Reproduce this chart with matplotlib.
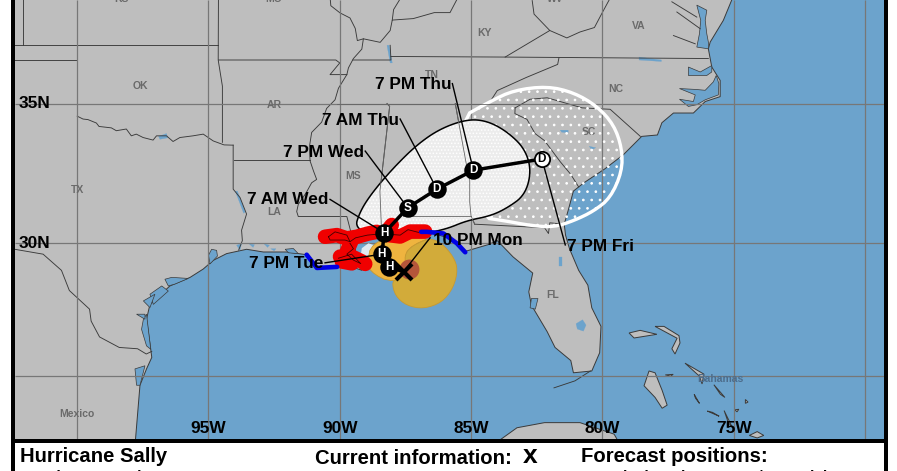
import numpy as np
import matplotlib
matplotlib.use("Agg")
import matplotlib.pyplot as plt
from matplotlib.patches import Polygon, Rectangle

plt.rcParams['font.family'] = ['Liberation Sans', 'DejaVu Sans']
plt.rcParams['hatch.linewidth'] = 0.7

# ---------- map data (lon, lat) ----------
coast_mainland = [(-75.0,38.7),(-75.07,38.52),(-75.39,37.84),(-75.89,37.11),(-75.96,36.88),(-75.83,36.26),(-75.51,35.8),
 (-75.51,35.24),(-76.08,35.07),(-76.53,34.67),(-77.29,34.67),(-77.73,34.33),(-77.9,33.9),(-78.5,33.85),(-79.2,33.2),
 (-79.9,32.7),(-80.7,32.2),(-81.1,31.9),(-81.3,31.2),(-81.45,30.7),(-81.4,30.3),(-81.25,29.8),(-80.9,29.0),
 (-80.55,28.45),(-80.4,27.6),(-80.05,26.9),(-80.1,25.9),(-80.4,25.2),(-81.1,25.13),(-81.2,25.6),(-81.8,26.1),
 (-82.1,26.7),(-82.7,27.7),(-82.8,28.2),(-82.65,28.9),(-83.4,29.5),(-84.0,30.1),(-84.35,29.95),(-85.3,29.68),
 (-85.7,30.15),(-86.5,30.38),(-87.5,30.28),(-88.0,30.23),(-87.95,30.65),(-88.1,30.6),(-88.15,30.35),(-89.2,30.33),
 (-89.6,30.2),(-89.4,29.9),(-89.4,29.3),(-89.15,29.0),(-89.9,29.25),(-90.2,29.1),(-90.9,29.05),(-91.26,29.58),
 (-92.02,29.68),(-92.91,29.68),(-93.55,29.78),(-94.31,29.62),(-94.82,29.37),(-95.2,29.05),(-95.7,28.74),(-96.47,28.42),
 (-97.23,27.73),(-97.36,27.17),(-97.2,26.03),(-97.16,25.72),(-97.36,25.28),(-97.61,24.65),(-97.8,22.3),(-103.0,22.3),(-103.0,38.7)]
cuba = [(-84.2,22.3),(-83.25,23.0),(-82.2,23.2),(-80.85,23.2),(-79.55,22.75),(-79.3,22.3)]
grand_bahama = [(-78.98,26.65),(-78.79,26.46),(-77.92,26.6),(-78.56,26.75)]
abaco = [(-77.99,26.9),(-77.65,26.9),(-77.08,26.55),(-77.04,26.27),(-77.23,25.85),(-77.35,26.05),(-77.15,26.45)]
andros = [(-78.22,25.2),(-77.99,25.13),(-77.72,24.45),(-77.53,23.88),(-77.72,23.76),(-77.99,24.18),(-78.41,24.63)]
small_islands = [
 [(-76.85,25.5),(-76.13,25.08),(-76.2,24.7),(-76.3,25.0)],
 [(-75.75,24.67),(-75.33,24.18),(-75.5,24.3)],
 [(-75.36,23.67),(-75.05,23.02),(-75.2,23.2)],
 [(-76.5,24.3),(-76.3,23.95),(-76.45,24.15)],
 [(-76.0,23.65),(-75.55,23.45),(-75.8,23.6)],
 [(-74.55,24.1),(-74.45,24.0),(-74.55,23.95)],
 [(-74.95,23.7),(-74.8,23.72),(-74.87,23.62)],
 [(-74.4,22.7),(-74.1,22.85),(-73.85,22.7),(-74.1,22.6)],
 [(-77.6,25.05),(-77.3,25.07),(-77.4,25.0)],
]
water_okeechobee = [(-81.0,27.0),(-80.75,27.15),(-80.62,26.95),(-80.72,26.72),(-80.95,26.8)]
water_chesapeake = [(-76.4,38.35),(-76.02,38.18),(-76.08,37.84),(-76.02,37.39),(-75.96,37.11),(-75.96,36.88),(-76.4,36.94),(-76.3,37.39),(-76.25,37.84)]
water_albemarle = [(-76.72,36.26),(-76.72,35.97),(-76.02,35.97),(-75.83,36.09),(-75.83,36.31),(-76.27,36.09)]
water_pamlico = [(-76.46,35.49),(-76.08,35.46),(-75.77,35.75),(-75.66,35.97),(-75.56,35.69),(-75.58,35.3),(-76.08,35.13),(-76.4,34.96),(-76.72,34.9),(-77.06,35.15),(-76.53,35.07),(-76.46,35.3),(-77.06,35.52)]
water_tampa = [(-82.7,27.95),(-82.45,27.95),(-82.55,27.55),(-82.75,27.6)]
water_galveston = [(-95.0,29.56),(-94.88,29.78),(-94.69,29.74),(-94.66,29.53),(-94.94,29.24)]
water_matagorda = [(-96.66,28.67),(-96.4,28.74),(-95.77,28.7),(-96.28,28.49),(-96.53,28.42)]
water_sanantonio = [(-97.23,28.11),(-96.78,28.42),(-96.53,28.23),(-97.1,27.73)]
water_corpus = [(-97.48,27.86),(-97.04,28.11),(-97.23,27.61)]
water_laguna = [(-97.48,27.17),(-97.36,27.36),(-97.2,26.03),(-97.36,26.16),(-97.55,26.79)]
water_baffin = [(-97.74,27.36),(-97.42,27.17),(-97.42,27.36)]
water_mexlagoon = [(-97.8,25.28),(-97.42,25.4),(-97.61,24.65),(-97.74,24.65)]
water_sabine = [(-93.93,29.93),(-93.74,29.99),(-93.8,29.74)]
water_calcasieu = [(-93.45,29.98),(-93.25,29.95),(-93.3,29.85)]
water_grand = [(-92.88,29.98),(-92.68,29.93),(-92.75,29.85)]
water_white = [(-92.63,29.8),(-92.43,29.8),(-92.5,29.72)]
water_vermilion = [(-92.08,29.78),(-91.77,29.81),(-91.58,29.62),(-91.95,29.65)]
water_texoma = [(-96.9,33.85),(-96.6,33.95),(-96.55,33.8),(-96.85,33.75)]
water_marion = [(-80.5,33.5),(-80.25,33.45),(-80.4,33.38)]
water_murray = [(-81.6,34.07),(-81.3,34.07),(-81.3,33.98),(-81.55,34.0)]
water_kerr = [(-78.6,36.6),(-77.75,36.5),(-77.75,36.45),(-78.6,36.5)]
water_toledo = [(-93.98,31.9),(-93.9,31.9),(-93.6,31.15),(-93.66,31.1)]
water_kentucky = [(-88.2,37.0),(-88.12,37.0),(-88.0,36.4),(-88.08,36.4)]
water_george = [(-81.65,29.5),(-81.55,29.5),(-81.55,29.15),(-81.65,29.15)]
coastal_waters = [water_chesapeake, water_albemarle, water_pamlico, water_tampa, water_galveston, water_matagorda,
                  water_sanantonio, water_corpus, water_laguna, water_baffin, water_mexlagoon, water_vermilion]
inland_waters = [water_okeechobee, water_sabine, water_calcasieu, water_grand, water_white, water_texoma,
                 water_marion, water_murray, water_kerr, water_toledo, water_kentucky, water_george]

border_grid_in_cone = [
 [(-85.6,35.0),(-85.18,32.87),(-85.05,32.3),(-85.05,31.5),(-85.0,31.0),(-84.86,30.7)],
 [(-88.2,35.0),(-88.1,34.9),(-88.47,31.9),(-88.4,30.25)],
 [(-87.6,31.0),(-85.0,31.0)],
 [(-90.1,35.0),(-83.1,35.0)],
]
border_lines = border_grid_in_cone + [
 [(-102.05,38.7),(-102.05,37.0)],
 [(-102.5,37.0),(-94.62,37.0)],
 [(-102.5,36.5),(-100.0,36.5),(-100.0,34.56)],
 [(-100.0,34.56),(-99.78,34.46),(-99.59,34.44),(-99.27,34.32),(-99.17,34.2),(-98.7,34.15),(-98.51,34.05),(-98.13,34.11),(-97.94,33.87),(-97.75,33.93),(-97.49,33.81),(-97.11,33.72),(-96.98,33.87),(-96.6,33.87),(-96.35,33.67),(-96.09,33.81),(-95.59,33.87),(-95.2,33.93),(-94.82,33.69),(-94.41,33.55),(-94.06,33.54)],
 [(-94.06,33.54),(-94.06,31.97),(-93.8,31.67),(-93.55,31.07),(-93.74,30.48),(-93.71,30.1),(-93.85,29.75)],
 [(-94.62,38.7),(-94.63,36.5),(-94.47,35.6),(-94.47,33.64)],
 [(-94.04,33.0),(-91.15,33.0)],
 [(-94.62,36.5),(-90.15,36.5),(-90.0,36.4),(-90.37,36.0),(-89.73,36.0)],
 [(-90.37,38.62),(-90.34,38.33),(-89.99,38.09),(-89.61,37.92),(-89.41,37.57),(-89.33,37.16),(-89.1,37.22),(-89.16,36.87),(-89.48,36.55),(-89.67,36.23),(-89.73,36.0),(-90.05,35.53),(-90.18,35.13),(-90.5,34.83),(-90.69,34.35),(-91.07,33.99),(-91.16,33.46),(-91.13,32.98),(-91.0,32.62),(-90.88,32.32),(-91.07,32.2),(-91.28,31.84),(-91.58,31.42),(-91.64,31.16),(-91.58,30.98),(-89.73,30.98),(-89.6,30.5),(-89.5,30.2)],
 [(-89.1,37.22),(-88.46,37.1),(-88.08,37.5),(-88.0,37.85),(-87.2,37.9),(-86.4,38.1),(-85.8,38.1),(-85.5,38.6)],
 [(-88.0,37.85),(-87.95,38.2),(-87.6,38.7)],
 [(-82.67,38.5),(-82.6,38.05),(-82.0,37.5),(-83.7,36.6)],
 [(-89.5,36.5),(-88.05,36.5),(-88.08,37.0)],
 [(-88.05,36.62),(-83.7,36.6),(-75.96,36.55)],
 [(-82.0,37.5),(-81.35,37.25),(-80.85,37.45),(-80.3,37.6),(-80.0,38.1),(-79.69,38.6)],
 [(-81.65,36.58),(-81.7,36.35),(-82.9,35.9),(-84.0,35.45),(-84.32,35.0)],
 [(-83.32,34.85),(-82.75,35.15),(-82.1,35.2),(-80.77,34.85),(-79.7,34.8),(-78.55,33.85)],
 [(-83.32,34.85),(-83.33,34.65),(-82.87,34.45),(-82.56,33.95),(-82.2,33.7),(-81.6,32.95),(-81.2,32.5),(-80.9,32.05)],
 [(-87.6,31.0),(-87.4,30.65),(-87.5,30.28)],
 [(-84.86,30.7),(-82.2,30.57),(-82.05,30.36),(-82.0,30.75),(-81.45,30.7)],
 [(-102.5,29.8),(-101.3,29.6),(-100.6,29.0),(-100.3,28.25),(-99.53,27.55),(-99.47,27.1),(-99.15,26.5),(-98.4,26.1),(-97.7,26.05),(-97.37,25.85),(-97.16,25.95)],
 [(-77.16,38.12),(-76.27,37.56)],
 [(-77.29,37.33),(-76.46,37.05)],
 [(-77.35,38.46),(-76.4,37.95)],
 [(-80.45,25.2),(-81.04,24.82),(-81.84,24.55)],
]
grid_lons = [-100, -95, -90, -85, -80, -75, -70]
grid_lats = [35, 30, 25]
lon_tick_labels = ['95W', '90W', '85W', '80W', '75W']
lon_tick_values = [-95, -90, -85, -80, -75]
lat_tick_labels = ['35N', '30N']
lat_tick_values = [35, 30]

state_names = ['KS','MO','WV','KY','VA','TN','NC','OK','AR','SC','TX','MS','AL','GA','LA','FL','Mexico']
state_lons  = [-98.3,-92.5,-81.8,-84.5,-78.6,-86.5,-79.5,-97.6,-92.5,-80.5,-100.0,-89.5,-87.1,-83.1,-92.5,-81.9,-100.0]
state_lats  = [38.55,38.55,38.55,37.4,37.65,36.0,35.5,35.6,34.95,34.0,31.95,32.45,32.4,32.45,31.15,28.1,23.55]
bahamas_label = ('Bahamas', -75.5, 24.9)

# ---------- storm data ----------
track_lons = [-87.57,-88.11,-88.4,-88.3,-87.41,-86.3,-84.91,-82.3]
track_lats = [28.95,29.12,29.6,30.38,31.3,31.97,32.65,33.05]
track_letters = ['', 'H', 'H', 'H', 'S', 'D', 'D', 'D']
cone = [(-89.45,30.48),(-89.22,31.19),(-88.72,31.9),(-87.95,32.74),(-87.07,33.55),(-86.18,34.12),(-85.16,34.45),
 (-84.4,34.4),(-83.64,34.03),(-82.95,33.42),(-82.7,32.62),(-82.95,31.75),(-83.64,31.28),(-84.27,31.0),
 (-85.16,30.83),(-85.92,30.53),(-86.68,30.38),(-88.1,30.22)]
outlook = [(-85.53,34.43),(-84.26,35.08),(-83.37,35.46),(-82.1,35.6),(-81.08,35.38),(-80.2,34.91),(-79.56,34.26),
 (-79.25,33.43),(-79.25,32.6),(-79.69,31.66),(-80.32,31.18),(-81.08,30.83),(-81.85,30.59),(-82.73,30.65),
 (-83.75,30.83),(-84.64,30.95)]
wind_ts = [(-86.56,30.19),(-86.11,30.0),(-85.67,29.51),(-85.5,29.03),(-85.67,28.35),(-86.11,27.8),(-86.81,27.56),
 (-87.45,27.68),(-87.89,28.05),(-88.02,28.6),(-87.76,28.66),(-87.51,29.21),(-87.51,29.64),(-87.19,29.94)]
wind_land = [(-88.91,29.45),(-88.84,29.82),(-88.46,30.12),(-87.32,30.16),(-86.56,30.21),(-87.19,29.94),(-87.51,29.64),
 (-87.45,29.09),(-87.57,28.63),(-88.21,28.62),(-88.65,28.84),(-88.91,29.09)]
light_patch = [(-89.16,29.82),(-88.91,30.0),(-88.72,29.94),(-88.91,29.45),(-88.97,29.27),(-89.23,29.39)]
wind_core = (-87.35, 29.06)
red_warnings = [
 [(-90.56,30.24),(-90.11,30.3),(-89.73,30.18),(-89.35,30.24),(-88.91,30.36),(-88.59,30.42)],
 [(-89.54,30.12),(-89.73,29.69)],
 [(-89.99,29.51),(-89.54,29.51),(-89.16,29.33),(-89.03,29.24)],
 [(-89.92,29.33),(-89.54,29.26)],
 [(-88.27,30.37),(-88.02,30.67)],
 [(-88.21,30.31),(-87.7,30.25),(-87.32,30.43),(-86.75,30.43)],
]
red_detail_a = [(-90.43,30.24),(-90.18,30.42),(-89.73,30.3),(-89.61,30.06),(-89.8,30.12),(-90.37,30.12),(-90.43,30.24)]
red_detail_b = [(-89.61,30.06),(-89.4,30.2),(-88.95,30.3),(-88.4,30.35),(-87.7,30.3),(-87.4,30.5),(-87.0,30.4)]
red_detail_c = [(-89.61,30.0),(-89.48,29.8),(-89.73,29.6),(-89.48,29.38),(-89.2,29.25),(-89.55,29.6),(-90.05,29.45)]
blue_warnings = [
 [(-86.9,30.42),(-86.68,30.42),(-86.05,30.36),(-85.54,30.0),(-85.22,29.67)],
 [(-91.26,29.58),(-90.87,29.09),(-90.1,29.13)],
]
label_names = ['7 PM Thu','7 AM Thu','7 PM Wed','7 AM Wed','7 PM Tue','10 PM Mon','7 PM Fri']
label_lons  = [-88.66,-90.67,-92.15,-93.53,-93.46,-86.45,-81.34]
label_lats  = [35.65,34.41,33.28,31.59,29.25,30.12,29.88]
leader_lons = [-85.71,-87.7,-89.03,-90.37,-90.56,-86.56,-81.41]
leader_lats = [35.69,34.46,33.33,31.6,29.28,30.2,29.94]
leader_node = [6,5,4,3,2,0,7]

LAND = '#bebebe'; SEA = '#6ca3cc'; LINE = '#3a3a3a'
W, H = 897, 471

fig = plt.figure(figsize=(W/100, H/100), dpi=100, facecolor='white')
ax = fig.add_axes([15/W, 1-439/H, 869/W, 439/H], facecolor=SEA)
merc = lambda a: np.log(np.tan(np.pi/4 + np.radians(np.asarray(a, float))/2))
imerc = lambda m: np.degrees(2*np.arctan(np.exp(np.asarray(m, float))) - np.pi/2)
ax.set_yscale('function', functions=(merc, imerc))
ax.set_xlim(-102.37, -69.27)
ax.set_ylim(22.56, 38.52)
ax.set_xticks([]); ax.set_yticks([]); ax.minorticks_off()
for s in ax.spines.values():
    s.set_visible(False)

def rounded(pts, passes=3):
    """Round a closed outline's corners when drawing it (corner cutting)."""
    a = np.array(pts, float)
    for _ in range(passes):
        b = np.roll(a, -1, axis=0)
        a = np.column_stack([0.75*a + 0.25*b, 0.25*a + 0.75*b]).reshape(-1, 2)
    return a

def poly(pts, **kw):
    p = Polygon(pts, closed=True, **kw)
    ax.add_patch(p)
    return p

def line(pts, **kw):
    a = np.array(pts)
    ax.plot(a[:, 0], a[:, 1], **kw)

poly(coast_mainland, fc=LAND, ec=LINE, lw=0.7, zorder=1)
for isl in [cuba, grand_bahama, abaco, andros] + small_islands:
    poly(isl, fc=LAND, ec=LINE, lw=0.7, zorder=1)
for w in coastal_waters:
    poly(w, fc=SEA, ec=LINE, lw=0.5, zorder=1.5)
for w in inland_waters:
    poly(w, fc=SEA, ec=SEA, lw=0.2, zorder=1.5)
for b in border_lines:
    line(b, color=LINE, lw=0.65, zorder=2)
ax.vlines(grid_lons, 22.56, 38.52, color='#777777', lw=0.9, zorder=2.5)
ax.hlines(grid_lats, -102.37, -69.27, color='#777777', lw=0.9, zorder=2.5)
for n, lo, la in zip(state_names, state_lons, state_lats):
    ax.text(lo, la, n, ha='center', va='center', fontsize=7.5, fontweight='bold', color='#6a6a6a', zorder=3)
ax.text(bahamas_label[1], bahamas_label[2], bahamas_label[0], ha='center', va='center', fontsize=7.5,
        fontweight='bold', color='#4d6d8c', zorder=3)

# Day 4-5 area and cone
out_s = rounded(outlook, 2)
poly(out_s, fc='none', ec='white', lw=0, hatch='..', zorder=4)
poly(out_s, fc='none', ec='white', lw=2.4, zorder=4.1)
cone_s = rounded(cone, 3)
poly(cone_s, fc='#ececec', ec='none', zorder=5)
poly(cone_s, fc='none', ec='white', lw=0, hatch='.....', zorder=5.1)
poly(cone_s, fc='none', ec='black', lw=1.1, zorder=5.2)
for b in border_grid_in_cone:
    line(b, color='#666666', lw=0.6, zorder=5.3)

# Wind fields
poly(light_patch, fc='#dfe9f0', ec='none', zorder=5.5)
poly(rounded(wind_land, 1), fc='#efb43f', ec='#c99a30', lw=0.6, zorder=6)
poly(rounded(wind_ts, 2), fc='#d2ab3a', ec='#c99a30', lw=0.6, zorder=6.1)
ax.scatter([wind_core[0]], [wind_core[1]], s=205, c='#b5563a', linewidths=0, zorder=6.2)

# Warnings
for r in red_warnings:
    line(r, color='#f00000', lw=10.5, solid_capstyle='round', solid_joinstyle='round', zorder=7)
for d in [red_detail_a, red_detail_b, red_detail_c]:
    line(d, color='#400000', lw=0.6, zorder=7.1)
for b in blue_warnings:
    line(b, color='#0000e6', lw=3.3, solid_capstyle='round', solid_joinstyle='round', zorder=7.2)

# Leaders and labels
for lo, la, node in zip(leader_lons, leader_lats, leader_node):
    ax.plot([lo, track_lons[node]], [la, track_lats[node]], color='black', lw=1.0, zorder=8)
for n, lo, la in zip(label_names, label_lons, label_lats):
    ax.text(lo, la, n, ha='left', va='center', fontsize=12.4, fontweight='bold', color='black', zorder=11)
for n, lo in zip(lon_tick_labels, lon_tick_values):
    ax.text(lo, 22.96, n, ha='center', va='center', fontsize=12.4, fontweight='bold', color='black', zorder=11)
for n, la in zip(lat_tick_labels, lat_tick_values):
    ax.text(-102.25, la, n, ha='left', va='center', fontsize=12.4, fontweight='bold', color='black', zorder=11)

# Track
ax.plot(track_lons, track_lats, color='black', lw=2.5, zorder=9)
ax.plot(track_lons[0], track_lats[0], marker='x', ms=11, mew=3, color='black', zorder=10)
for lo, la, t, i in zip(track_lons, track_lats, track_letters, range(len(track_lons))):
    if not t:
        continue
    last = i == len(track_lons) - 1
    ax.plot(lo, la, 'o', ms=12 if not last else 11, mfc='white' if last else 'black', mec='black',
            mew=1.3, zorder=10)
    ax.text(lo, la, t, ha='center', va='center', fontsize=8.5, fontweight='bold',
            color='black' if last else 'white', zorder=10.5)

# Frame and legend panel (figure pixels from the top-left)
def frame(x0, y0, x1, y1):
    fig.add_artist(Rectangle((x0/W, 1-y1/H), (x1-x0)/W, (y1-y0)/H, transform=fig.transFigure,
                             fc='black', ec='none'))
frame(11, 0, 15, H)
frame(884, 0, 888, H)
frame(11, 439, 888, 443)

def panel(x, y, s, size=14.6):
    fig.text(x/W, 1-y/H, s, ha='left', va='center', fontsize=size, fontweight='bold', color='black')
panel(20, 457, 'Hurricane Sally')
panel(315, 458, 'Current information:')
panel(523, 456, 'x', 19)
panel(581, 456, 'Forecast positions:')
panel(20, 477, 'Monday September 14, 2020', 11)
panel(590, 477, 'Tropical Cyclone   Post/Potential TC', 11)

fig.savefig('out.png', dpi=100)
